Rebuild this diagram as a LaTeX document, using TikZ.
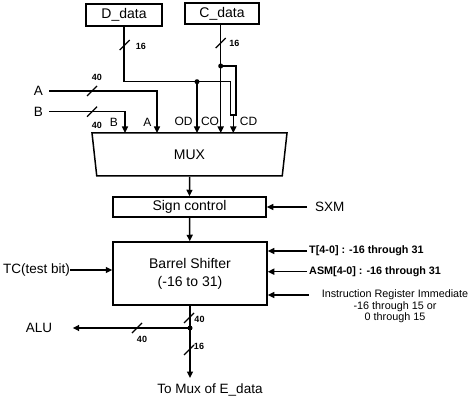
\documentclass[tikz,border=0pt]{standalone}
\usepackage{fontspec}
\setmainfont{Liberation Sans}
\usetikzlibrary{positioning,arrows.meta,shapes.geometric}
\newcommand\mainfnt{\fontsize{14}{17}\selectfont}
\newcommand\sigfnt{\fontsize{13.5}{16}\selectfont}
\newcommand\portfnt{\fontsize{12}{14}\selectfont}
\newcommand\notefnt{\fontsize{10.8}{10}\selectfont}
\newcommand\widthfnt{\fontsize{9}{10}\selectfont\bfseries}

\begin{document}
\begin{tikzpicture}[x=1pt,y=-1pt,
  reg/.style={draw,line width=1.5pt,inner sep=0pt,font=\mainfnt},
  muxshape/.style={draw,line width=1.5pt,trapezium,trapezium angle=64,shape border rotate=180,
    trapezium stretches body,minimum width=195pt,minimum height=43pt,inner sep=0pt,font=\mainfnt},
  sig/.style={inner sep=0pt,font=\sigfnt},
  port/.style={inner sep=0pt,font=\portfnt},
  note/.style={inner sep=0pt,font=\notefnt,align=center},
  busw/.style={inner sep=0pt,font=\widthfnt},
  wire/.style={line width=1.5pt},
  arr/.style={wire,-{Triangle[length=6.5pt,width=6pt]}},
  busmark/.pic={\draw[wire,line width=1.3pt] (-5pt,-5pt) -- (5pt,5pt);}]
  \useasboundingbox (0,0) rectangle (474,401);
  % data registers
  \node[reg,minimum width=76pt,minimum height=22pt] (ddata) at (124,15) {D\_data};
  \node[reg,minimum width=74pt,minimum height=21pt] (cdata) at (222,13.5) {C\_data};
  % datapath column
  \node[muxshape] (mux) at (189.5,154.5) {MUX};
  \node[reg,minimum width=153pt,minimum height=20pt] (sign) at (189.5,207) {Sign control};
  \node[reg,minimum width=154pt,minimum height=63pt,align=center] (shift) at (190,273.5)
    {Barrel Shifter\\[1pt](-16 to 31)};
  % mux ports
  \coordinate (pB) at (125,133);
  \coordinate (pA) at (157,133);
  \coordinate (dD) at (197,81.7);
  \coordinate (dC) at (220.7,66);
  \coordinate (loopL) at (230.7,115);
  \coordinate (loopR) at (236,115);
  \coordinate (cdOut) at (233.3,115);
  \node[port] (lB) at (114,122) {B};
  \node[port] (lA) at (147.5,122) {A};
  \node[port] (lOD) at (183.5,121) {OD};
  \node[port] (lCO) at (210,121) {CO};
  \node[port] (lCD) at (248.5,121) {CD};
  % left inputs
  \node[sig] (a) at (38.5,91) {A};
  \node[sig] (b) at (38.5,111.5) {B};
  \draw[arr] ([xshift=6pt]a.east) -| (pA);
  \draw[arr] ([xshift=6pt]b.east) -| (pB);
  \pic at (92,91) {busmark};
  \pic at (92,111.7) {busmark};
  \node[busw] (wA) at (97,77) {40};
  \node[busw] (wB) at (97,125) {40};
  % D_data / C_data buses
  \draw[wire] (ddata.south) |- (loopL |- dD) -- (loopL) -- (loopR) |- (dC);
  \draw[wire] (cdata.south -| dC) -- (dC);
  \draw[arr] (dD) -- (dD |- pA);
  \draw[arr] (dC) -- (dC |- pA);
  \draw[arr] (cdOut) -- (cdOut |- pA);
  \fill (dD) circle (2.5pt);
  \fill (dC) circle (2.5pt);
  \pic at (124.7,45) {busmark};
  \pic at (220.7,43) {busmark};
  \node[busw] (wD) at (141,46) {16};
  \node[busw] (wC) at (234.3,43) {16};
  % column flow
  \draw[arr] (mux.south) -- (sign.north);
  \draw[arr] (sign) -- (shift);
  % control inputs
  \node[sig,anchor=west] (sxm) at (315,207) {SXM};
  \draw[arr] ([xshift=-8pt]sxm.west) -- (sign.east);
  \node[note,anchor=west,font=\notefnt\bfseries] (tsrc) at (309,251) {T[4-0] : -16 through 31};
  \node[note,anchor=west,font=\notefnt\bfseries] (asm) at (309,271.7) {ASM[4-0] : -16 through 31};
  \node[note] (imm) at (395,295) {Instruction Register Immediate};
  \node[note,below=1.5pt of imm] (immr) {-16 through 15 or\\0 through 15};
  \draw[arr] ([xshift=-13pt]imm.west) -- (shift.east |- imm);
  \draw[arr] ([xshift=-2pt]tsrc.west) -- (shift.east |- tsrc);
  \draw[arr] ([xshift=-2pt]asm.west) -- (shift.east |- asm);
  \node[sig,anchor=west] (tc) at (3,270) {TC(test bit)};
  \draw[arr] (tc.east) -- (shift.west |- tc);
  % outputs
  \coordinate (split) at (190,328);
  \node[sig] (alu) at (39,328) {ALU};
  \node[sig] (emux) at (210,390) {To Mux of E\_data};
  \coordinate (aluEnd) at (72.7,328);
  \coordinate (emuxEnd) at (190,378);
  \draw[wire] (shift.south) -- (split);
  \draw[arr] (split) -- (aluEnd);
  \draw[arr] (split) -- (emuxEnd);
  \fill (split) circle (2.5pt);
  \pic at (189,318) {busmark};
  \pic at (137,328) {busmark};
  \pic at (189,350) {busmark};
  \node[busw] (wS) at (199.5,319) {40};
  \node[busw] (wL) at (142,339) {40};
  \node[busw] (wE) at (199,346) {16};
\end{tikzpicture}
\end{document}
